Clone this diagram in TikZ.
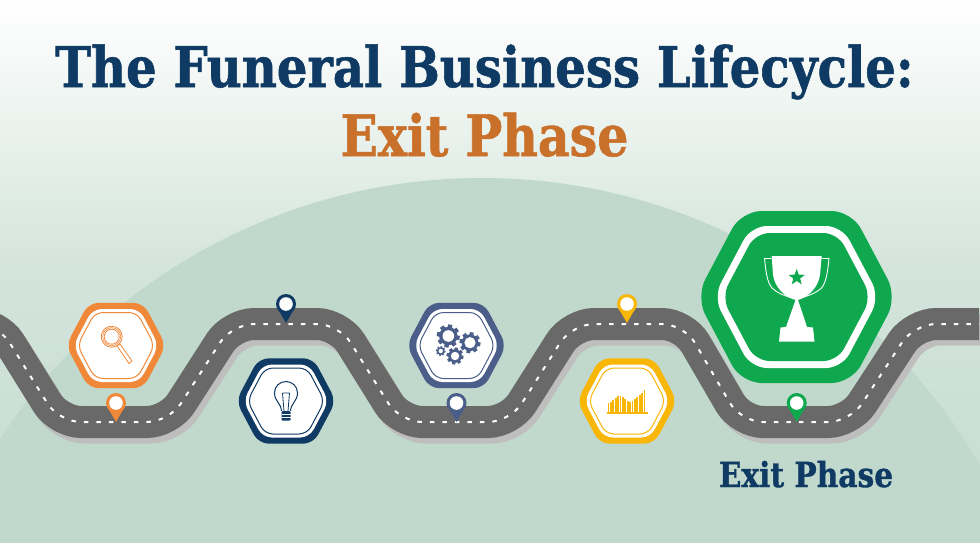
\documentclass[tikz,border=0pt]{standalone}
\usepackage{fontspec}
\usepackage{tikz}
\usetikzlibrary{shapes}
\newfontfamily\titlefont[FakeStretch=.86,FakeBold=1]{DejaVu Serif}

\definecolor{cNavy}{HTML}{0E3A63}
\definecolor{cRust}{HTML}{C9702A}
\definecolor{cOrange}{HTML}{F0883A}
\definecolor{cSlate}{HTML}{4A5E89}
\definecolor{cYellow}{HTML}{F8B606}
\definecolor{cGreen}{HTML}{0FA84F}
\definecolor{cRoad}{HTML}{696969}
\definecolor{cShade}{HTML}{BEBEBE}
\definecolor{cHill}{HTML}{C0D9CC}
\definecolor{cSkyMid}{HTML}{D3E4DB}
\definecolor{cSkyLow}{HTML}{C6DCD1}

% hexagon around the origin, #1 is half its height
\newcommand{\hexat}[1]{(-1.17*#1,0) -- (-.64*#1,-#1) -- (.64*#1,-#1) -- (1.17*#1,0) -- (.64*#1,#1) -- (-.64*#1,#1) -- cycle}
\newcommand{\badge}[3]{
	\begin{scope}[shift={(#1,#2)}]
	\fill[#3,rounded corners=10] \hexat{42.7};
	\fill[white,rounded corners=9] \hexat{36.5};
	\draw[#3,line width=1,rounded corners=8] \hexat{33};
	\end{scope}
}
\newcommand{\pinat}[3]{
	\fill[#3] (#1,#2) -- (#1-8.6,#2-15) -- (#1+8.6,#2-15) -- cycle;
	\fill[#3] (#1,#2-19) circle[radius=10];
	\fill[white] (#1,#2-19) circle[radius=6.8];
}
\newcommand{\gearat}[4]{
	\foreach \a in {0,45,...,315}
		\draw[cSlate,line width=#3*.38] (#1,#2) ++(\a+10:#3*.6) -- ++(\a+10:#3*.4);
	\fill[cSlate] (#1,#2) circle[radius=#3*.8];
	\fill[white] (#1,#2) circle[radius=#4];
}
\newcommand{\roadpath}{(-45,324) -- (-2,324) -- (59,422) -- (169,422) -- (232,324) -- (339,324) -- (400,422) -- (510,422) -- (572,324) -- (684,324) -- (741,422) -- (850,422) -- (914,324) -- (979,324)}

\begin{document}
\begin{tikzpicture}[x=1pt,y=-1pt]
\useasboundingbox (0,0) rectangle (980,542);
\clip (0,0) rectangle (980,542);
\fill[top color=white,bottom color=cSkyLow,middle color=cSkyMid,shading angle=0] (0,0) rectangle (980,542);
\fill[cHill] (482,753) circle[radius=575];

%road
\draw[cShade,line width=32,rounded corners=22,shift={(4,5.5)}] \roadpath;
\draw[cRoad,line width=32,rounded corners=22] \roadpath;
\draw[white,line width=2,rounded corners=22,dash pattern=on 4.5 off 8] \roadpath;

\badge{116}{345.5}{cOrange}
\badge{286}{401}{cNavy}
\badge{456.5}{345.5}{cSlate}
\badge{627}{401}{cYellow}

%big one
\begin{scope}[shift={(796.5,297)}]
	\fill[cGreen,rounded corners=20] \hexat{86};
	\fill[white,rounded corners=16] \hexat{71};
	\fill[cGreen,rounded corners=14] \hexat{64};
\end{scope}

\pinat{116}{422}{cOrange}
\pinat{286}{323}{cNavy}
\pinat{456.5}{422}{cSlate}
\pinat{627}{323}{cYellow}
\pinat{796.7}{422}{cGreen}

%magnifier
\draw[cOrange,line width=.8] (111.7,336.7) circle[radius=10.5];
\draw[cOrange,line width=.8] (111.7,336.7) circle[radius=7.5];
\draw[cOrange,line width=.6] (111.7,336.7) circle[radius=9];
\draw[cOrange,line width=.8,fill=white] (117,346) -- (120,344) -- (132,361) -- (129,363.5) -- cycle;

%bulb
\draw[cNavy,line width=1] (281.5,411) .. controls (281,403) and (274.5,401) .. (274.5,393) .. controls (274.5,386) and (280,381.5) .. (286,381.5) .. controls (292,381.5) and (297.5,386) .. (297.5,393) .. controls (297.5,401) and (291,403) .. (290.5,411);
\draw[cNavy,line width=.8] (282.5,393) -- (284,411) (289.5,393) -- (288,411) (282.5,393) -- (289.5,393);
\fill[cNavy,rounded corners=1] (281.5,411) rectangle (290.5,420.5);
\draw[white,line width=.5] (281.5,414) -- (290.5,414) (281.5,417) -- (290.5,417);

%gears
\gearat{448.3}{336}{11.5}{5.8}
\gearat{470}{342.7}{10.5}{5.6}
\gearat{455}{356}{8.5}{4.2}
\gearat{440.7}{351}{4.8}{2.2}

%chart
\foreach \barx/\bartop in {608.5/403,610.9/401.5,613.3/399.5,615.7/397.5,618.1/395.5,620.5/396,622.9/397,625.3/398.5,627.7/401,630.1/402,632.5/401,634.9/399,637.3/397,639.7/395,642.1/393,644.5/390}
	\draw[cYellow,line width=1.7] (\barx,\bartop) -- (\barx,412.5);
\draw[cYellow,line width=1.4] (606.7,412.8) -- (648.3,412.8);

%trophy
\fill[white] (771.7,256) -- (821.7,256) -- (820,275) .. controls (818,288) and (808,297) .. (798,300) -- (807,327) -- (813,327.5) -- (814.5,341.5) -- (779,341.5) -- (780.5,327.5) -- (786,327) -- (795.5,300) .. controls (785,297) and (775,288) .. (773,275) -- cycle;
\draw[white,line width=.9] (771.7,258.5) -- (764.5,258.5) .. controls (766,272) and (767,282) .. (772,288) .. controls (777,293) and (785,296) .. (794,298.5);
\draw[white,line width=.9] (821.7,258.5) -- (829,258.5) .. controls (827.5,272) and (826.5,282) .. (821.5,288) .. controls (816,293) and (808,296) .. (799,298.5);
\node[star,star points=5,star point ratio=2.4,fill=cGreen,inner sep=0,minimum size=17] (trophystar) at (796.7,277.5) {};

%text
\node[cNavy,anchor=base,inner sep=0,font=\titlefont\bfseries\fontsize{56}{60}\selectfont] (title) at (484.5,87) {The Funeral Business Lifecycle:};
\node[cRust,anchor=base,inner sep=0,font=\titlefont\bfseries\fontsize{57}{60}\selectfont] (phase) at (484.5,156) {Exit Phase};
\node[cNavy,anchor=base,inner sep=0,font=\titlefont\bfseries\fontsize{34.5}{36}\selectfont] (exitlabel) at (806,487) {Exit Phase};

\end{tikzpicture}
\end{document}
